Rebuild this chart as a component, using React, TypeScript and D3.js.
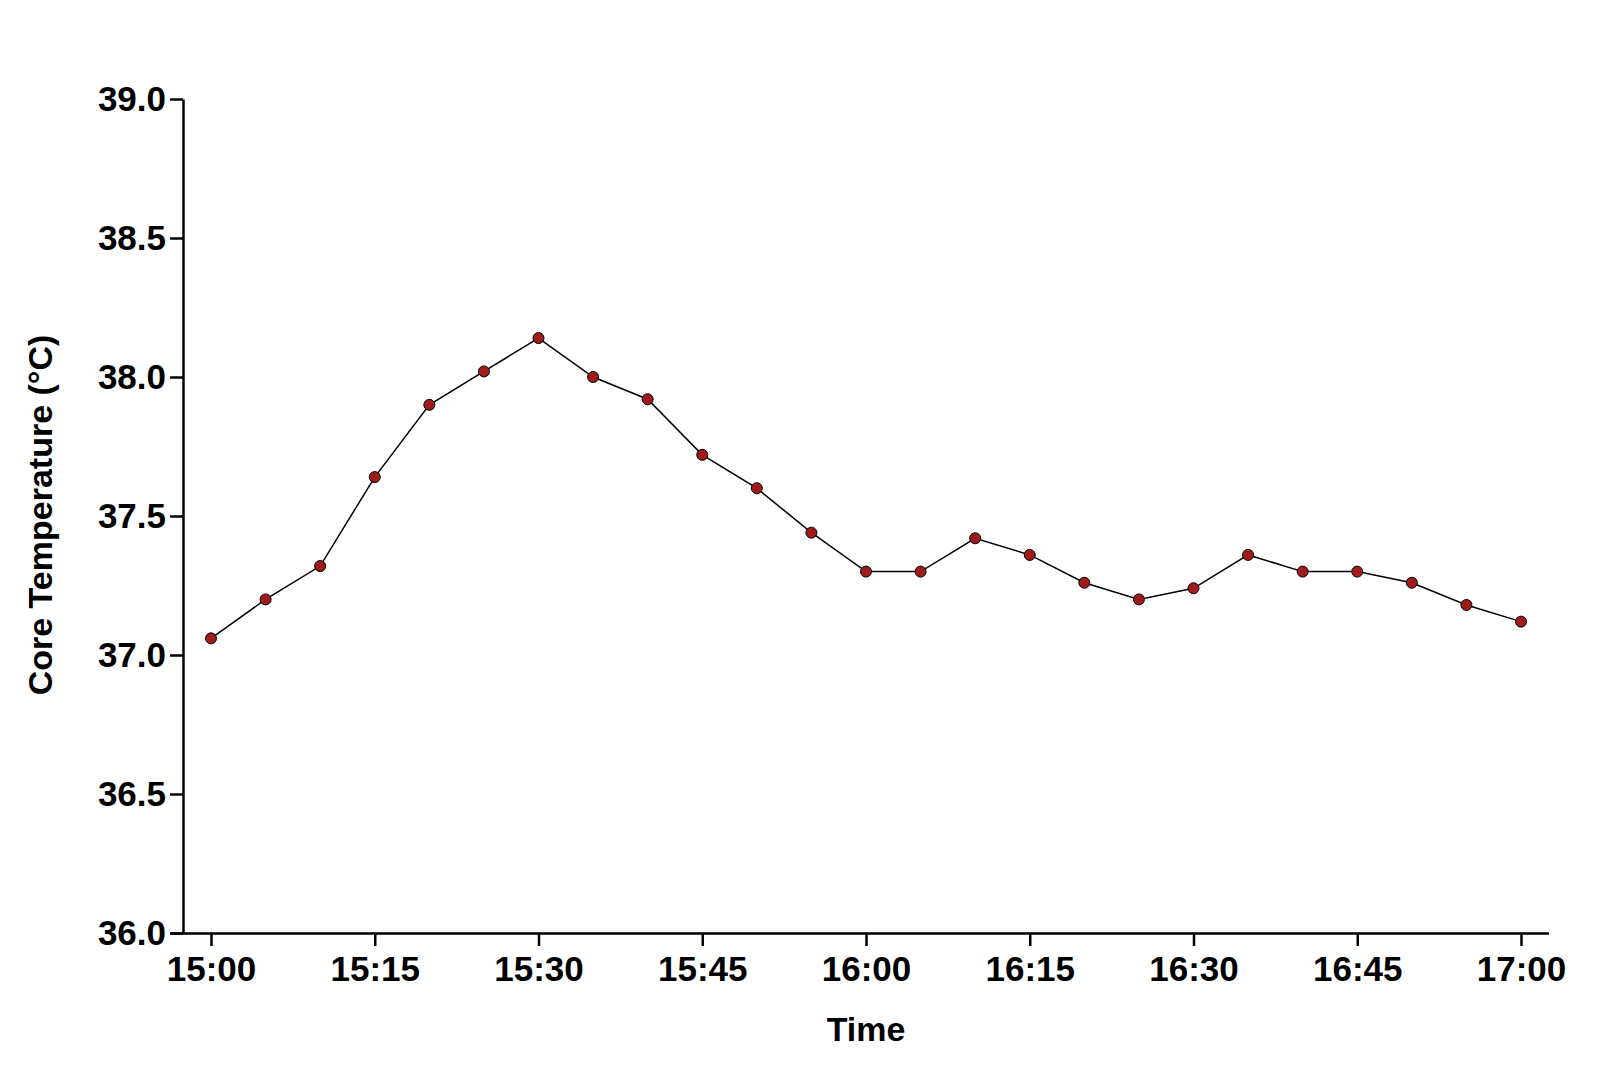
import { useRef, useEffect } from 'react'
import * as d3 from 'd3'

// minutes after 15:00
const minutes = [0, 5, 10, 15, 20, 25, 30, 35, 40, 45, 50, 55, 60, 65, 70, 75, 80, 85, 90, 95, 100, 105, 110, 115, 120]
const coreTemp = [37.06, 37.2, 37.32, 37.64, 37.9, 38.02, 38.14, 38.0, 37.92, 37.72, 37.6, 37.44, 37.3, 37.3, 37.42, 37.36, 37.26, 37.2, 37.24, 37.36, 37.3, 37.3, 37.26, 37.18, 37.12]

const xTickValues = [0, 15, 30, 45, 60, 75, 90, 105, 120]
const xTickLabels = ['15:00', '15:15', '15:30', '15:45', '16:00', '16:15', '16:30', '16:45', '17:00']
const yTickValues = [36.0, 36.5, 37.0, 37.5, 38.0, 38.5, 39.0]

const width = 1600
const height = 1067
const font = "'Liberation Sans', Arial, sans-serif"

export default function App() {
  const svgRef = useRef<SVGSVGElement>(null)

  useEffect(() => {
    if (!svgRef.current) return
    const svg = d3.select(svgRef.current)
    svg.selectAll('*').remove()

    const x = d3.scaleLinear().domain([0, 120]).range([211, 1521])
    const y = d3.scaleLinear().domain([36, 39]).range([933, 99])

    // x axis
    const xAxis = d3.axisBottom(x)
      .tickValues(xTickValues)
      .tickFormat((d, i) => xTickLabels[i])
      .tickSize(13)
      .tickSizeOuter(0)
      .tickPadding(10)
    const gx = svg.append('g')
      .attr('transform', `translate(0,${y(36)})`)
      .call(xAxis)
    gx.select('.domain')
      .attr('d', `M170,0.5H1549`)
    gx.selectAll('line').attr('stroke', '#000').attr('stroke-width', 2.5)
    gx.select('.domain').attr('stroke', '#000').attr('stroke-width', 2.5)
    gx.selectAll('text')
      .attr('fill', '#000')
      .style('font-family', font)
      .style('font-size', '35px')
      .style('font-weight', 'bold')

    // y axis
    const yAxis = d3.axisLeft(y)
      .tickValues(yTickValues)
      .tickFormat(d3.format('.1f'))
      .tickSize(13)
      .tickSizeOuter(0)
      .tickPadding(4)
    const gy = svg.append('g')
      .attr('transform', `translate(183,0)`)
      .call(yAxis)
    gy.selectAll('line').attr('stroke', '#000').attr('stroke-width', 2.5)
    gy.select('.domain').attr('stroke', '#000').attr('stroke-width', 2.5)
    gy.selectAll('text')
      .attr('fill', '#000')
      .style('font-family', font)
      .style('font-size', '35px')
      .style('font-weight', 'bold')

    // axis titles
    svg.append('text')
      .attr('x', 866)
      .attr('y', 1041)
      .attr('text-anchor', 'middle')
      .style('font-family', font)
      .style('font-size', '34px')
      .style('font-weight', 'bold')
      .text('Time')

    svg.append('text')
      .attr('transform', `translate(52,515) rotate(-90)`)
      .attr('text-anchor', 'middle')
      .style('font-family', font)
      .style('font-size', '34px')
      .style('font-weight', 'bold')
      .text('Core Temperature (°C)')

    // line
    const line = d3.line<number>()
      .x((d, i) => x(minutes[i]))
      .y(d => y(d))
    svg.append('path')
      .datum(coreTemp)
      .attr('d', line)
      .attr('fill', 'none')
      .attr('stroke', '#000')
      .attr('stroke-width', 1.5)

    // points
    svg.selectAll('.pt')
      .data(coreTemp)
      .enter()
      .append('circle')
      .attr('class', 'pt')
      .attr('cx', (d, i) => x(minutes[i]))
      .attr('cy', d => y(d))
      .attr('r', 5.5)
      .attr('fill', '#a01b1b')
      .attr('stroke', '#000')
      .attr('stroke-width', 1)
  }, [])

  return (
    <svg
      ref={svgRef}
      width={width}
      height={height}
      style={{ position: 'absolute', left: 0, top: 0, background: '#fff' }}
    />
  )
}
